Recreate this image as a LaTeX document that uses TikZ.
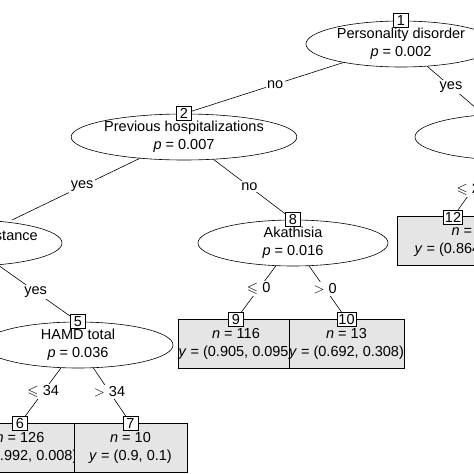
\documentclass[tikz,border=0pt]{standalone}
\usepackage{amssymb}
\usepackage{fontspec}
\setmainfont{Liberation Sans}
\usetikzlibrary{shapes.geometric}

\tikzset{
  inner/.style={draw,ellipse,minimum width=190pt,minimum height=46pt,align=center,inner sep=0pt},
  leaf/.style={draw,fill=gray!20,minimum width=108pt,minimum height=49pt,align=center,inner sep=0pt},
  num/.style={draw,fill=white,inner sep=1.5pt,minimum width=15pt,minimum height=14pt},
  lab/.style={fill=white,inner sep=1.5pt}
}
\newcommand{\pv}[1]{\textit{p} = #1}
\newcommand{\nv}[1]{\textit{n} = #1}
\newcommand{\yv}[1]{\textit{y} = (#1)}

\begin{document}
\begin{tikzpicture}[x=1pt,y=-1pt,font=\fontsize{14.5}{18}\selectfont,semithick]
\useasboundingbox (0,0) rectangle (474,474);
\clip (0,0) rectangle (474,474);

% inner nodes
\node[inner] (e1) at (401,44) {Personality disorder\\\pv{0.002}};
\node[inner] (e2) at (184,137) {Previous hospitalizations\\\pv{0.007}};
\node[inner] (e3) at (-33,243) {};
\node[anchor=east,inner sep=0pt] (t3) at (38,235) {Assistance};
\node[inner] (e8) at (293,243) {Akathisia\\\pv{0.016}};
\node[inner] (e5) at (78,345) {HAMD total\\\pv{0.036}};
\node[inner] (e11) at (510,137) {};

% terminal nodes
\node[leaf] (t6) at (20,448) {\nv{126}\\\yv{0.992, 0.008}};
\node[leaf,minimum width=113pt] (t7) at (130.5,448) {\nv{10}\\\yv{0.9, 0.1}};
\node[leaf] (t9) at (236,344) {\nv{116}\\\yv{0.905, 0.095}};
\node[leaf,minimum width=113pt] (t10) at (346.5,344) {\nv{13}\\\yv{0.692, 0.308}};
\node[leaf,minimum width=150pt] (t12) at (472,241) {\nv{44}\\\yv{0.864, 0.136}};

% numbers
\node[num] (n1) at (e1.north) {1};
\node[num] (n2) at (e2.north) {2};
\node[num] (n8) at (e8.north) {8};
\node[num] (n5) at (e5.north) {5};
\node[num] (n6) at (t6.north) {6};
\node[num] (n7) at (t7.north) {7};
\node[num] (n9) at (t9.north) {9};
\node[num] (n10) at (t10.north) {10};
\node[num] (n12) at (453,217) {12};
\coordinate (c3) at (12,220);

% connectors
\draw (e1) -- (n2) node[lab,pos=0.45] {no};
\draw (e1) -- (e11) node[lab,pos=0.42] {yes};
\draw (e2) -- (c3) node[lab,pos=0.45] {yes};
\draw (e2) -- (n8) node[lab,pos=0.5] {no};
\draw (e3) -- (n5) node[lab,pos=0.52] {yes};
\draw (e5) -- (n6) node[lab,pos=0.5] {$\leqslant$ 34};
\draw (e5) -- (n7) node[lab,pos=0.5] {$>$ 34};
\draw (e8) -- (n9) node[lab,pos=0.5] {$\leqslant$ 0};
\draw (e8) -- (n10) node[lab,pos=0.5] {$>$ 0};
\draw (e11) -- (n12) node[lab,pos=0.6] {$\leqslant$ 26};
\end{tikzpicture}
\end{document}
